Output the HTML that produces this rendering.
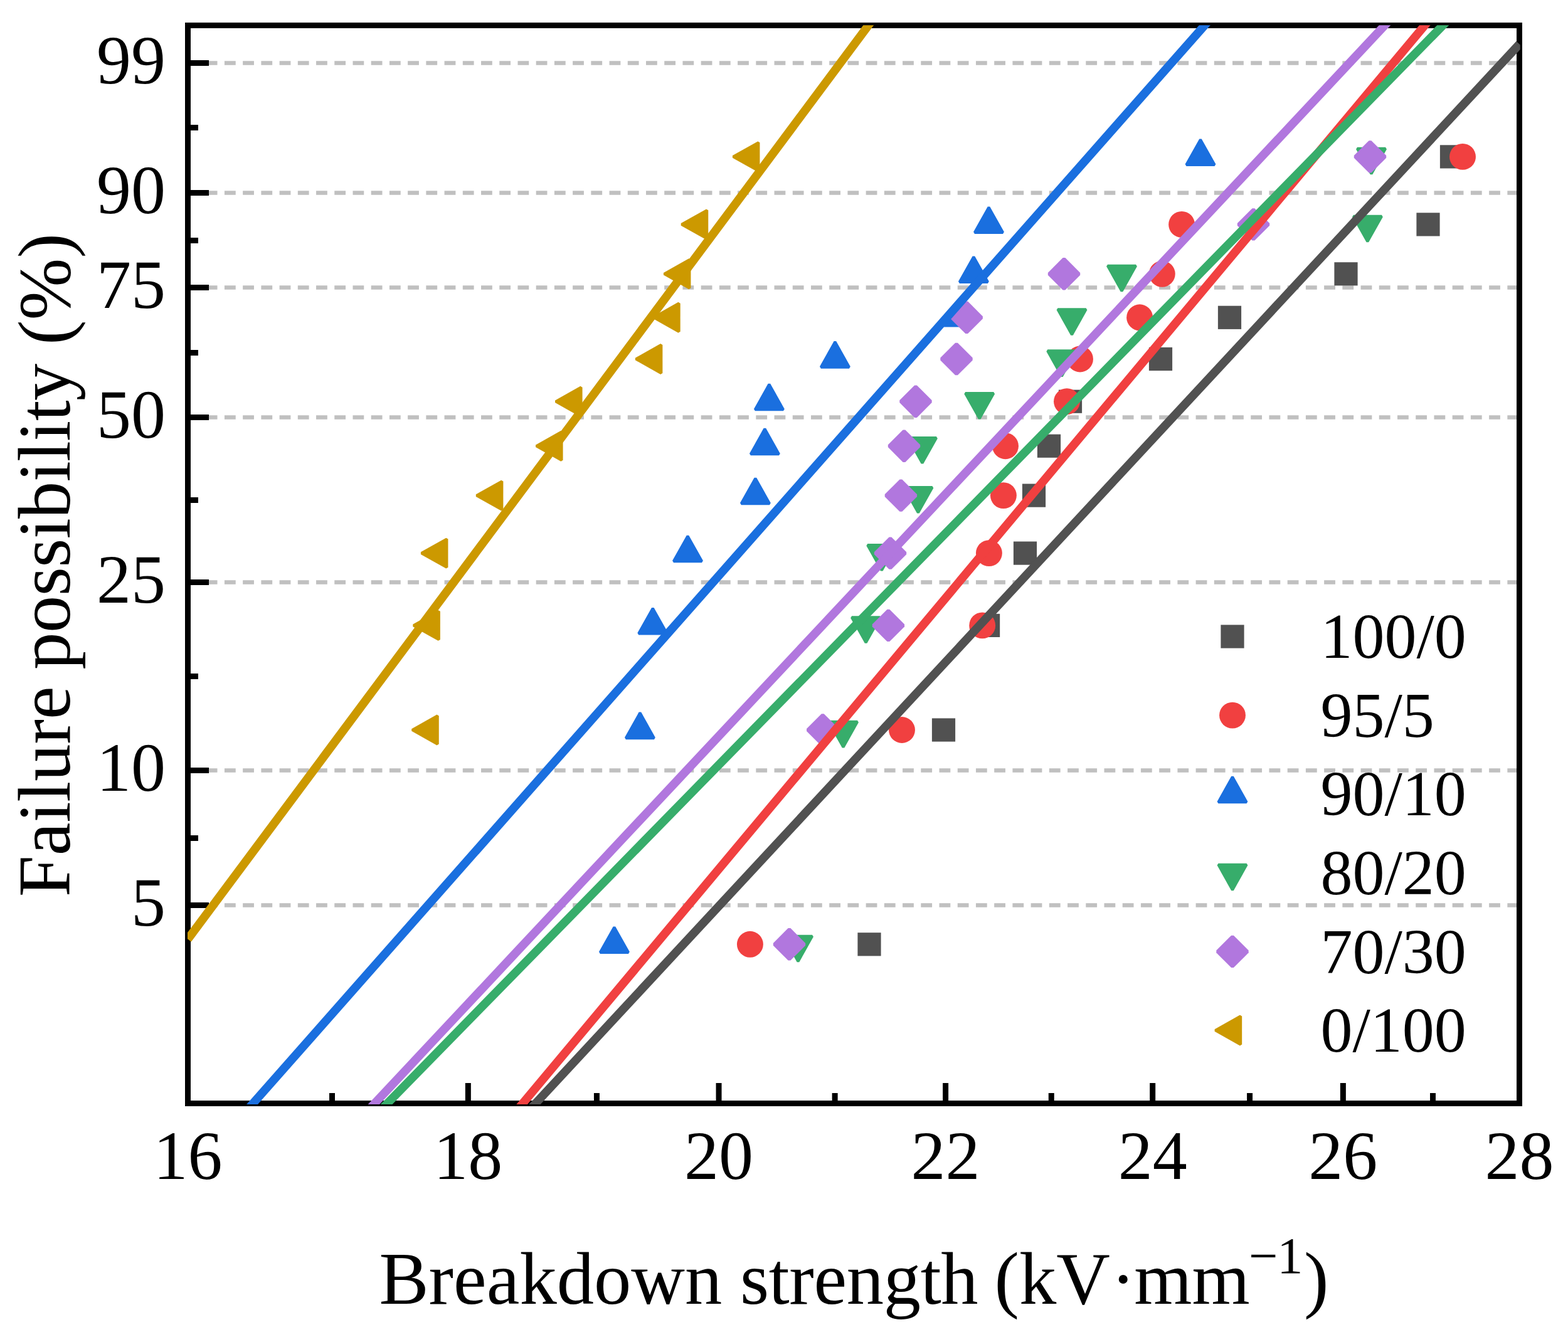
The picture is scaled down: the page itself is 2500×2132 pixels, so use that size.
<!DOCTYPE html>
<html><head><meta charset="utf-8"><style>html,body{margin:0;padding:0;background:#fff;overflow:hidden}svg{display:block}</style></head>
<body>
<svg width="2500" height="2132" viewBox="0 0 2500 2132">
<defs><clipPath id="cp"><rect x="299" y="40.3" width="2124.7" height="1720.6"/></clipPath></defs>
<rect width="2500" height="2132" fill="#fff"/>
<line x1="299.5" y1="100.50" x2="2422.5" y2="100.50" stroke="#C0C0C0" stroke-width="6.7" stroke-dasharray="17.8 11.42"/>
<line x1="299.5" y1="307.50" x2="2422.5" y2="307.50" stroke="#C0C0C0" stroke-width="6.7" stroke-dasharray="17.8 11.42"/>
<line x1="299.5" y1="458.50" x2="2422.5" y2="458.50" stroke="#C0C0C0" stroke-width="6.7" stroke-dasharray="17.8 11.42"/>
<line x1="299.5" y1="665.50" x2="2422.5" y2="665.50" stroke="#C0C0C0" stroke-width="6.7" stroke-dasharray="17.8 11.42"/>
<line x1="299.5" y1="928.50" x2="2422.5" y2="928.50" stroke="#C0C0C0" stroke-width="6.7" stroke-dasharray="17.8 11.42"/>
<line x1="299.5" y1="1228.50" x2="2422.5" y2="1228.50" stroke="#C0C0C0" stroke-width="6.7" stroke-dasharray="17.8 11.42"/>
<line x1="299.5" y1="1443.50" x2="2422.5" y2="1443.50" stroke="#C0C0C0" stroke-width="6.7" stroke-dasharray="17.8 11.42"/>
<rect x="299.5" y="40.5" width="2123.0" height="1719.0" fill="none" stroke="#000" stroke-width="9" stroke-linejoin="miter"/>
<line x1="299.5" y1="100.50" x2="333" y2="100.50" stroke="#000" stroke-width="9"/>
<line x1="299.5" y1="307.50" x2="333" y2="307.50" stroke="#000" stroke-width="9"/>
<line x1="299.5" y1="458.50" x2="333" y2="458.50" stroke="#000" stroke-width="9"/>
<line x1="299.5" y1="665.50" x2="333" y2="665.50" stroke="#000" stroke-width="9"/>
<line x1="299.5" y1="928.50" x2="333" y2="928.50" stroke="#000" stroke-width="9"/>
<line x1="299.5" y1="1228.50" x2="333" y2="1228.50" stroke="#000" stroke-width="9"/>
<line x1="299.5" y1="1443.50" x2="333" y2="1443.50" stroke="#000" stroke-width="9"/>
<line x1="299.5" y1="203.50" x2="316" y2="203.50" stroke="#000" stroke-width="9"/>
<line x1="299.5" y1="383.50" x2="316" y2="383.50" stroke="#000" stroke-width="9"/>
<line x1="299.5" y1="562.50" x2="316" y2="562.50" stroke="#000" stroke-width="9"/>
<line x1="299.5" y1="797.50" x2="316" y2="797.50" stroke="#000" stroke-width="9"/>
<line x1="299.5" y1="1078.50" x2="316" y2="1078.50" stroke="#000" stroke-width="9"/>
<line x1="299.5" y1="1336.50" x2="316" y2="1336.50" stroke="#000" stroke-width="9"/>
<line x1="529.49" y1="1759.5" x2="529.49" y2="1743" stroke="#000" stroke-width="9"/>
<line x1="746.33" y1="1759.5" x2="746.33" y2="1727" stroke="#000" stroke-width="9"/>
<line x1="951.44" y1="1759.5" x2="951.44" y2="1743" stroke="#000" stroke-width="9"/>
<line x1="1146.03" y1="1759.5" x2="1146.03" y2="1727" stroke="#000" stroke-width="9"/>
<line x1="1331.13" y1="1759.5" x2="1331.13" y2="1743" stroke="#000" stroke-width="9"/>
<line x1="1507.61" y1="1759.5" x2="1507.61" y2="1727" stroke="#000" stroke-width="9"/>
<line x1="1676.25" y1="1759.5" x2="1676.25" y2="1743" stroke="#000" stroke-width="9"/>
<line x1="1837.70" y1="1759.5" x2="1837.70" y2="1727" stroke="#000" stroke-width="9"/>
<line x1="1992.57" y1="1759.5" x2="1992.57" y2="1743" stroke="#000" stroke-width="9"/>
<line x1="2141.36" y1="1759.5" x2="2141.36" y2="1727" stroke="#000" stroke-width="9"/>
<line x1="2284.53" y1="1759.5" x2="2284.53" y2="1743" stroke="#000" stroke-width="9"/>
<g font-family="Liberation Serif, Times New Roman, serif" font-size="110" fill="#000">
<text x="264.1" y="133.00" text-anchor="end">99</text>
<text x="264.1" y="340.00" text-anchor="end">90</text>
<text x="264.1" y="491.00" text-anchor="end">75</text>
<text x="264.1" y="698.00" text-anchor="end">50</text>
<text x="264.1" y="961.00" text-anchor="end">25</text>
<text x="264.1" y="1261.00" text-anchor="end">10</text>
<text x="264.1" y="1476.00" text-anchor="end">5</text>
<text x="299.50" y="1880" text-anchor="middle">16</text>
<text x="746.33" y="1880" text-anchor="middle">18</text>
<text x="1146.03" y="1880" text-anchor="middle">20</text>
<text x="1507.61" y="1880" text-anchor="middle">22</text>
<text x="1837.70" y="1880" text-anchor="middle">24</text>
<text x="2141.36" y="1880" text-anchor="middle">26</text>
<text x="2422.50" y="1880" text-anchor="middle">28</text>
</g>
<g font-family="Liberation Serif, Times New Roman, serif" fill="#000" font-size="118.6">
<text x="604.53" y="2078.8">Breakdown</text>
<text x="1179.94" y="2078.8" textLength="379.7" lengthAdjust="spacing">strength</text>
<text x="1585.59" y="2078.8">(kV</text>
<text x="1770.95" y="2078.8">·</text>
<text x="1808.3" y="2078.8">mm</text>
<text x="1990.9" y="2030" font-size="82.3">−</text>
<text x="2036.3" y="2030" font-size="82.3">1</text>
<text x="2078.9" y="2078.8">)</text>
<text transform="translate(110.9,1430.2) rotate(-90)">Failure</text>
<text transform="translate(110.9,1067.7) rotate(-90)" textLength="488" lengthAdjust="spacing">possibility</text>
<text transform="translate(110.9,549.9) rotate(-90)">(%)</text>
</g>
<rect x="1946.40" y="996.40" width="37.2" height="37.2" fill="#515151"/>
<text x="2105.5" y="1049.10" font-family="Liberation Serif, Times New Roman, serif" font-size="102" fill="#000">100/0</text>
<circle cx="1965.00" cy="1140.60" r="20.95" fill="#F14040"/>
<text x="2105.5" y="1174.70" font-family="Liberation Serif, Times New Roman, serif" font-size="102" fill="#000">95/5</text>
<polygon points="1963.19,1237.82 1966.81,1237.82 1989.44,1278.13 1987.55,1281.36 1942.45,1281.36 1940.56,1278.13" fill="#1A6FDF"/>
<text x="2105.5" y="1300.30" font-family="Liberation Serif, Times New Roman, serif" font-size="102" fill="#000">90/10</text>
<polygon points="1966.81,1420.18 1963.19,1420.18 1940.56,1379.87 1942.45,1376.64 1987.55,1376.64 1989.44,1379.87" fill="#37AD6B"/>
<text x="2105.5" y="1425.90" font-family="Liberation Serif, Times New Roman, serif" font-size="102" fill="#000">80/20</text>
<polygon points="1963.10,1491.70 1966.90,1491.70 1990.70,1515.50 1990.70,1519.30 1966.90,1543.10 1963.10,1543.10 1939.30,1519.30 1939.30,1515.50" fill="#B177DE"/>
<text x="2105.5" y="1551.50" font-family="Liberation Serif, Times New Roman, serif" font-size="102" fill="#000">70/30</text>
<polygon points="1936.62,1641.19 1936.62,1644.81 1976.93,1667.44 1980.16,1665.55 1980.16,1620.45 1976.93,1618.56" fill="#CC9900"/>
<text x="2105.5" y="1677.10" font-family="Liberation Serif, Times New Roman, serif" font-size="102" fill="#000">0/100</text>
<rect x="1367.40" y="1487.20" width="37.2" height="37.2" fill="#515151"/>
<rect x="1485.90" y="1145.40" width="37.2" height="37.2" fill="#515151"/>
<rect x="1557.00" y="978.80" width="37.2" height="37.2" fill="#515151"/>
<rect x="1615.90" y="863.50" width="37.2" height="37.2" fill="#515151"/>
<rect x="1629.90" y="771.50" width="37.2" height="37.2" fill="#515151"/>
<rect x="1653.90" y="692.60" width="37.2" height="37.2" fill="#515151"/>
<rect x="1687.90" y="621.60" width="37.2" height="37.2" fill="#515151"/>
<rect x="1831.90" y="553.90" width="37.2" height="37.2" fill="#515151"/>
<rect x="1941.90" y="487.70" width="37.2" height="37.2" fill="#515151"/>
<rect x="2127.40" y="418.20" width="37.2" height="37.2" fill="#515151"/>
<rect x="2258.40" y="339.30" width="37.2" height="37.2" fill="#515151"/>
<rect x="2295.90" y="231.30" width="37.2" height="37.2" fill="#515151"/>
<circle cx="1195.90" cy="1505.80" r="20.95" fill="#F14040"/>
<circle cx="1438.00" cy="1164.00" r="20.95" fill="#F14040"/>
<circle cx="1566.20" cy="997.40" r="20.95" fill="#F14040"/>
<circle cx="1576.90" cy="882.10" r="20.95" fill="#F14040"/>
<circle cx="1599.90" cy="790.10" r="20.95" fill="#F14040"/>
<circle cx="1603.00" cy="711.20" r="20.95" fill="#F14040"/>
<circle cx="1701.00" cy="640.20" r="20.95" fill="#F14040"/>
<circle cx="1722.00" cy="572.50" r="20.95" fill="#F14040"/>
<circle cx="1817.10" cy="506.30" r="20.95" fill="#F14040"/>
<circle cx="1852.80" cy="436.80" r="20.95" fill="#F14040"/>
<circle cx="1884.10" cy="357.90" r="20.95" fill="#F14040"/>
<circle cx="2332.00" cy="249.90" r="20.95" fill="#F14040"/>
<polygon points="977.59,1477.42 981.21,1477.42 1003.84,1517.73 1001.95,1520.96 956.85,1520.96 954.96,1517.73" fill="#1A6FDF"/>
<polygon points="1018.59,1135.62 1022.21,1135.62 1044.84,1175.93 1042.95,1179.16 997.85,1179.16 995.96,1175.93" fill="#1A6FDF"/>
<polygon points="1038.99,969.02 1042.61,969.02 1065.24,1009.33 1063.35,1012.56 1018.25,1012.56 1016.36,1009.33" fill="#1A6FDF"/>
<polygon points="1094.69,853.72 1098.31,853.72 1120.94,894.03 1119.05,897.26 1073.95,897.26 1072.06,894.03" fill="#1A6FDF"/>
<polygon points="1202.59,761.72 1206.21,761.72 1228.84,802.03 1226.95,805.26 1181.85,805.26 1179.96,802.03" fill="#1A6FDF"/>
<polygon points="1217.59,682.82 1221.21,682.82 1243.84,723.13 1241.95,726.36 1196.85,726.36 1194.96,723.13" fill="#1A6FDF"/>
<polygon points="1224.59,611.82 1228.21,611.82 1250.84,652.13 1248.95,655.36 1203.85,655.36 1201.96,652.13" fill="#1A6FDF"/>
<polygon points="1329.59,544.12 1333.21,544.12 1355.84,584.43 1353.95,587.66 1308.85,587.66 1306.96,584.43" fill="#1A6FDF"/>
<polygon points="1526.19,477.92 1529.81,477.92 1552.44,518.23 1550.55,521.46 1505.45,521.46 1503.56,518.23" fill="#1A6FDF"/>
<polygon points="1550.59,408.42 1554.21,408.42 1576.84,448.73 1574.95,451.96 1529.85,451.96 1527.96,448.73" fill="#1A6FDF"/>
<polygon points="1574.69,329.52 1578.31,329.52 1600.94,369.83 1599.05,373.06 1553.95,373.06 1552.06,369.83" fill="#1A6FDF"/>
<polygon points="1912.19,221.52 1915.81,221.52 1938.44,261.83 1936.55,265.06 1891.45,265.06 1889.56,261.83" fill="#1A6FDF"/>
<polygon points="1274.31,1534.18 1270.69,1534.18 1248.06,1493.87 1249.95,1490.64 1295.05,1490.64 1296.94,1493.87" fill="#37AD6B"/>
<polygon points="1346.31,1192.38 1342.69,1192.38 1320.06,1152.07 1321.95,1148.84 1367.05,1148.84 1368.94,1152.07" fill="#37AD6B"/>
<polygon points="1382.41,1025.78 1378.79,1025.78 1356.16,985.47 1358.05,982.24 1403.15,982.24 1405.04,985.47" fill="#37AD6B"/>
<polygon points="1407.61,910.48 1403.99,910.48 1381.36,870.17 1383.25,866.94 1428.35,866.94 1430.24,870.17" fill="#37AD6B"/>
<polygon points="1465.71,818.48 1462.09,818.48 1439.46,778.17 1441.35,774.94 1486.45,774.94 1488.34,778.17" fill="#37AD6B"/>
<polygon points="1472.21,739.58 1468.59,739.58 1445.96,699.27 1447.85,696.04 1492.95,696.04 1494.84,699.27" fill="#37AD6B"/>
<polygon points="1563.51,668.58 1559.89,668.58 1537.26,628.27 1539.15,625.04 1584.25,625.04 1586.14,628.27" fill="#37AD6B"/>
<polygon points="1694.61,600.88 1690.99,600.88 1668.36,560.57 1670.25,557.34 1715.35,557.34 1717.24,560.57" fill="#37AD6B"/>
<polygon points="1710.81,534.68 1707.19,534.68 1684.56,494.37 1686.45,491.14 1731.55,491.14 1733.44,494.37" fill="#37AD6B"/>
<polygon points="1790.31,465.18 1786.69,465.18 1764.06,424.87 1765.95,421.64 1811.05,421.64 1812.94,424.87" fill="#37AD6B"/>
<polygon points="2182.21,386.28 2178.59,386.28 2155.96,345.97 2157.85,342.74 2202.95,342.74 2204.84,345.97" fill="#37AD6B"/>
<polygon points="2188.31,278.28 2184.69,278.28 2162.06,237.97 2163.95,234.74 2209.05,234.74 2210.94,237.97" fill="#37AD6B"/>
<polygon points="1256.60,1480.10 1260.40,1480.10 1284.20,1503.90 1284.20,1507.70 1260.40,1531.50 1256.60,1531.50 1232.80,1507.70 1232.80,1503.90" fill="#B177DE"/>
<polygon points="1309.85,1138.30 1313.65,1138.30 1337.45,1162.10 1337.45,1165.90 1313.65,1189.70 1309.85,1189.70 1286.05,1165.90 1286.05,1162.10" fill="#B177DE"/>
<polygon points="1414.50,971.70 1418.30,971.70 1442.10,995.50 1442.10,999.30 1418.30,1023.10 1414.50,1023.10 1390.70,999.30 1390.70,995.50" fill="#B177DE"/>
<polygon points="1417.60,856.40 1421.40,856.40 1445.20,880.20 1445.20,884.00 1421.40,907.80 1417.60,907.80 1393.80,884.00 1393.80,880.20" fill="#B177DE"/>
<polygon points="1434.50,764.40 1438.30,764.40 1462.10,788.20 1462.10,792.00 1438.30,815.80 1434.50,815.80 1410.70,792.00 1410.70,788.20" fill="#B177DE"/>
<polygon points="1439.60,685.50 1443.40,685.50 1467.20,709.30 1467.20,713.10 1443.40,736.90 1439.60,736.90 1415.80,713.10 1415.80,709.30" fill="#B177DE"/>
<polygon points="1458.10,614.50 1461.90,614.50 1485.70,638.30 1485.70,642.10 1461.90,665.90 1458.10,665.90 1434.30,642.10 1434.30,638.30" fill="#B177DE"/>
<polygon points="1523.10,546.80 1526.90,546.80 1550.70,570.60 1550.70,574.40 1526.90,598.20 1523.10,598.20 1499.30,574.40 1499.30,570.60" fill="#B177DE"/>
<polygon points="1539.30,480.60 1543.10,480.60 1566.90,504.40 1566.90,508.20 1543.10,532.00 1539.30,532.00 1515.50,508.20 1515.50,504.40" fill="#B177DE"/>
<polygon points="1694.60,411.10 1698.40,411.10 1722.20,434.90 1722.20,438.70 1698.40,462.50 1694.60,462.50 1670.80,438.70 1670.80,434.90" fill="#B177DE"/>
<polygon points="1996.60,332.20 2000.40,332.20 2024.20,356.00 2024.20,359.80 2000.40,383.60 1996.60,383.60 1972.80,359.80 1972.80,356.00" fill="#B177DE"/>
<polygon points="2182.60,224.20 2186.40,224.20 2210.20,248.00 2210.20,251.80 2186.40,275.60 2182.60,275.60 2158.80,251.80 2158.80,248.00" fill="#B177DE"/>
<polygon points="656.22,1162.19 656.22,1165.81 696.53,1188.44 699.76,1186.55 699.76,1141.45 696.53,1139.56" fill="#CC9900"/>
<polygon points="658.32,995.59 658.32,999.21 698.63,1021.84 701.86,1019.95 701.86,974.85 698.63,972.96" fill="#CC9900"/>
<polygon points="670.92,880.29 670.92,883.91 711.23,906.54 714.46,904.65 714.46,859.55 711.23,857.66" fill="#CC9900"/>
<polygon points="758.82,788.29 758.82,791.91 799.13,814.54 802.36,812.65 802.36,767.55 799.13,765.66" fill="#CC9900"/>
<polygon points="854.02,709.39 854.02,713.01 894.33,735.64 897.56,733.75 897.56,688.65 894.33,686.76" fill="#CC9900"/>
<polygon points="885.02,638.39 885.02,642.01 925.33,664.64 928.56,662.75 928.56,617.65 925.33,615.76" fill="#CC9900"/>
<polygon points="1012.82,570.69 1012.82,574.31 1053.13,596.94 1056.36,595.05 1056.36,549.95 1053.13,548.06" fill="#CC9900"/>
<polygon points="1041.12,504.49 1041.12,508.11 1081.43,530.74 1084.66,528.85 1084.66,483.75 1081.43,481.86" fill="#CC9900"/>
<polygon points="1057.92,434.99 1057.92,438.61 1098.23,461.24 1101.46,459.35 1101.46,414.25 1098.23,412.36" fill="#CC9900"/>
<polygon points="1085.72,356.09 1085.72,359.71 1126.03,382.34 1129.26,380.45 1129.26,335.35 1126.03,333.46" fill="#CC9900"/>
<polygon points="1167.92,248.09 1167.92,251.71 1208.23,274.34 1211.46,272.45 1211.46,227.35 1208.23,225.46" fill="#CC9900"/>
<g clip-path="url(#cp)">
<line x1="299.50" y1="2356.54" x2="2422.50" y2="70.43" stroke="#515151" stroke-width="13.5"/>
<line x1="299.50" y1="2397.70" x2="2422.50" y2="-139.95" stroke="#F14040" stroke-width="13.5"/>
<line x1="299.50" y1="1877.20" x2="2422.50" y2="-528.19" stroke="#1A6FDF" stroke-width="13.5"/>
<line x1="299.50" y1="2084.37" x2="2422.50" y2="-84.17" stroke="#37AD6B" stroke-width="13.5"/>
<line x1="299.50" y1="2077.46" x2="2422.50" y2="-188.77" stroke="#B177DE" stroke-width="13.5"/>
<line x1="299.50" y1="1497.69" x2="2422.50" y2="-1353.51" stroke="#CC9900" stroke-width="13.5"/>
</g>
</svg>
</body></html>
